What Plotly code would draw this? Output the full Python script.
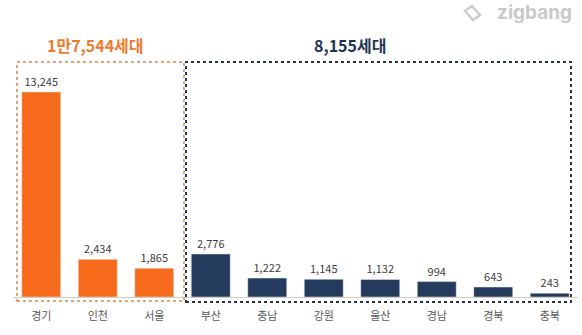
import plotly.graph_objects as go

categories = ["경기", "인천", "서울", "부산", "충남", "강원", "울산", "경남", "경북", "충북"]
values = [13245, 2434, 1865, 2776, 1222, 1145, 1132, 994, 643, 243]
groups = ["capital"] * 3 + ["other"] * 7
group_titles = {"capital": "1만7,544세대", "other": "8,155세대"}

ORANGE = "#F96B1C"
NAVY = "#253B5E"
colors = [ORANGE if g == "capital" else NAVY for g in groups]

W, H = 582, 335
ML, MR, MT, MB = 13, 4, 60, 38
pw, ph = W - ML - MR, H - MT - MB

def px(x):
    return (x - ML) / pw

def py(y):
    return (H - MB - y) / ph

FONT = "Noto Sans CJK KR"

fig = go.Figure(go.Bar(
    x=categories, y=values, marker_color=colors, width=0.69,
    text=[f"{v:,}" for v in values], textposition="outside",
    textfont=dict(size=11, color="#404040", family=FONT),
    cliponaxis=False,
))

fig.update_layout(
    width=W, height=H, margin=dict(l=ML, r=MR, t=MT, b=MB),
    plot_bgcolor="white", paper_bgcolor="white", showlegend=False,
    font=dict(family=FONT),
    xaxis=dict(showline=True, linecolor="#D8CCB8", linewidth=1,
               ticks="outside", ticklen=9, tickcolor="rgba(0,0,0,0)",
               tickfont=dict(size=11, color="#595959", family=FONT),
               range=[-0.5, 9.5], fixedrange=True),
    yaxis=dict(visible=False, range=[0, 15310], showgrid=False),
    bargap=0.31,
)

# dotted group boxes
fig.add_shape(type="rect", xref="paper", yref="paper",
              x0=px(17), x1=px(184), y0=py(301), y1=py(62),
              line=dict(color="#D08A52", width=1.5, dash="dot"))
fig.add_shape(type="rect", xref="paper", yref="paper",
              x0=px(186), x1=px(571), y0=py(302), y1=py(62),
              line=dict(color="#2A3347", width=2, dash="dot"))

# group titles
fig.add_annotation(xref="paper", yref="paper", x=px(95), y=py(45),
                   xanchor="center", yanchor="middle",
                   text=f"<b>{group_titles['capital']}</b>", showarrow=False,
                   font=dict(size=16, color="#EE7B30", family=FONT))
fig.add_annotation(xref="paper", yref="paper", x=px(350), y=py(45),
                   xanchor="center", yanchor="middle",
                   text=f"<b>{group_titles['other']}</b>", showarrow=False,
                   font=dict(size=16, color="#1F3556", family=FONT))

# zigbang logo
fig.add_annotation(xref="paper", yref="paper", x=px(534), y=py(13),
                   xanchor="center", yanchor="middle",
                   text="<b>zigbang</b>", showarrow=False,
                   font=dict(size=19, color="#C9C9C9", family="Inter"))
fig.add_shape(type="path", xref="paper", yref="paper",
              path=f"M {px(465)},{py(11)} L {px(472)},{py(6)} L {px(480)},{py(15)} L {px(473)},{py(20)} Z",
              line=dict(color="#CDCDCD", width=2.5))

fig.write_html("out.html")
